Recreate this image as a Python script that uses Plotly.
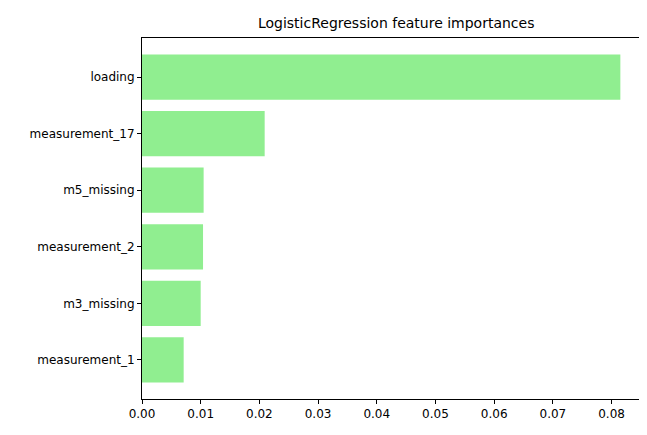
import plotly.graph_objects as go

features = ['measurement_1', 'm3_missing', 'measurement_2', 'm5_missing', 'measurement_17', 'loading']
importances = [0.0071, 0.0100, 0.0104, 0.0105, 0.0209, 0.0815]
x_ticks = [0.0, 0.01, 0.02, 0.03, 0.04, 0.05, 0.06, 0.07, 0.08]

fig = go.Figure(go.Bar(x=importances, y=features, orientation='h',
                       marker=dict(color='#90EE90', line=dict(width=0)), width=0.8))

axis_style = dict(showline=True, mirror=True, linecolor='black', linewidth=1,
                  ticks='outside', ticklen=4, tickcolor='black', showgrid=False,
                  zeroline=False, tickfont=dict(size=12, color='black'))

fig.update_layout(
    width=647, height=435,
    margin=dict(l=134, r=10, t=30, b=44, autoexpand=False),
    plot_bgcolor='white', paper_bgcolor='white',
    font=dict(family='DejaVu Sans', color='black'),
    title=dict(text='LogisticRegression feature importances', x=0.6, xanchor='center',
               y=0.965, yanchor='middle', font=dict(size=14)),
    xaxis=dict(range=[0, 0.0857], tickvals=x_ticks,
               ticktext=['%.2f' % v for v in x_ticks], **axis_style),
    yaxis=dict(range=[-0.69, 5.69], **axis_style),
    bargap=0.2, showlegend=False,
)

fig.write_html("out.html")
